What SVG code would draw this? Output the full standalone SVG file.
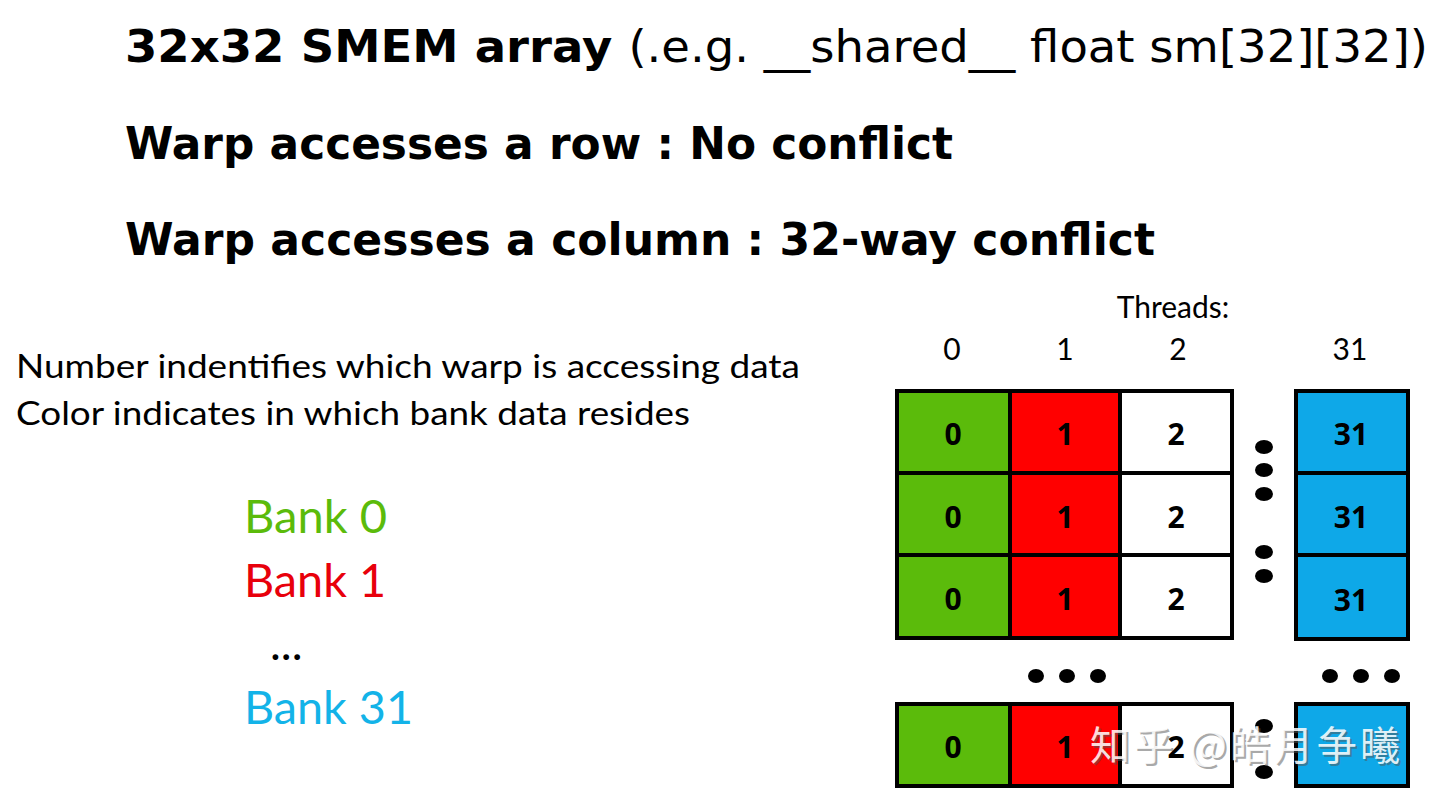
<svg xmlns="http://www.w3.org/2000/svg" width="1440" height="806" viewBox="0 0 1440 806">
<style>
.t{font-family:"DejaVu Sans",sans-serif;font-weight:bold;font-size:44px;fill:#000}
.tn{font-weight:normal}
.b{font-family:Lato,"Open Sans",sans-serif;font-size:33px;fill:#000}
.k{font-family:Lato,"Open Sans",sans-serif;font-size:46px}
.c{stroke:#000;stroke-width:4}
.n{font-family:"Open Sans",sans-serif;font-weight:bold;font-size:30px;text-anchor:middle;fill:#000}
.h{font-family:Lato,"Open Sans",sans-serif;font-size:30px;text-anchor:middle;fill:#000}
</style>
<rect width="1440" height="806" fill="#fff"/>
<text class="t" x="125" y="62" textLength="1303" lengthAdjust="spacingAndGlyphs">32x32 SMEM array <tspan class="tn">(.e.g. __shared__ float sm[32][32])</tspan></text>
<text class="t" x="125" y="159" textLength="828" lengthAdjust="spacingAndGlyphs">Warp accesses a row : No conflict</text>
<text class="t" x="125" y="255" textLength="1030" lengthAdjust="spacingAndGlyphs">Warp accesses a column : 32-way conflict</text>
<text class="b" x="16" y="378" textLength="784" lengthAdjust="spacingAndGlyphs">Number indentifies which warp is accessing data</text>
<text class="b" x="16" y="425" textLength="674" lengthAdjust="spacingAndGlyphs">Color indicates in which bank data resides</text>
<text class="k" x="244" y="533" fill="#5bbb0b" textLength="143" lengthAdjust="spacingAndGlyphs">Bank 0</text>
<text class="k" x="244" y="597" fill="#e8000b" textLength="142" lengthAdjust="spacingAndGlyphs">Bank 1</text>
<text class="k" x="270" y="660" fill="#000">...</text>
<text class="k" x="244" y="724" fill="#13b3e8" textLength="169" lengthAdjust="spacingAndGlyphs">Bank 31</text>
<text class="h" x="1173" y="318">Threads:</text>
<text class="h" x="952" y="360">0</text>
<text class="h" x="1065" y="360">1</text>
<text class="h" x="1178" y="360">2</text>
<text class="h" x="1350" y="360">31</text>
<g id="grid">
<g fill="#5bbb0b" class="c"><rect x="897" y="391" width="113" height="82"/><rect x="897" y="473" width="113" height="82"/><rect x="897" y="555" width="113" height="83"/><rect x="897" y="704" width="113" height="82"/></g>
<g fill="#ff0000" class="c"><rect x="1010" y="391" width="110" height="82"/><rect x="1010" y="473" width="110" height="82"/><rect x="1010" y="555" width="110" height="83"/><rect x="1010" y="704" width="110" height="82"/></g>
<g fill="#fff" class="c"><rect x="1120" y="391" width="112" height="82"/><rect x="1120" y="473" width="112" height="82"/><rect x="1120" y="555" width="112" height="83"/><rect x="1120" y="704" width="112" height="82"/></g>
<g fill="#0ea8e8" class="c"><rect x="1296" y="391" width="112" height="82"/><rect x="1296" y="473" width="112" height="82"/><rect x="1296" y="555" width="112" height="84"/><rect x="1296" y="704" width="112" height="82"/></g>
</g>
<g id="labels">
<text class="n" x="953" y="445">0</text><text class="n" x="1065" y="445">1</text><text class="n" x="1176" y="445">2</text><text class="n" x="1351" y="445">31</text>
<text class="n" x="953" y="528">0</text><text class="n" x="1065" y="528">1</text><text class="n" x="1176" y="528">2</text><text class="n" x="1351" y="528">31</text>
<text class="n" x="953" y="610">0</text><text class="n" x="1065" y="610">1</text><text class="n" x="1176" y="610">2</text><text class="n" x="1351" y="611">31</text>
<text class="n" x="953" y="758">0</text><text class="n" x="1065" y="758">1</text><text class="n" x="1176" y="758">2</text>
</g>
<g id="dots" fill="#000">
<ellipse cx="1264" cy="447" rx="9" ry="7"/><ellipse cx="1264" cy="470" rx="9" ry="7"/><ellipse cx="1264" cy="494" rx="9" ry="7"/>
<ellipse cx="1264" cy="552" rx="9" ry="7"/><ellipse cx="1264" cy="576" rx="9" ry="7"/>
<ellipse cx="1036" cy="676" rx="8" ry="7"/><ellipse cx="1067" cy="676" rx="8" ry="7"/><ellipse cx="1098" cy="676" rx="8" ry="7"/>
<ellipse cx="1330" cy="676" rx="8" ry="7"/><ellipse cx="1361" cy="676" rx="8" ry="7"/><ellipse cx="1392" cy="676" rx="8" ry="7"/>
<ellipse cx="1264" cy="726" rx="9" ry="7"/><ellipse cx="1264" cy="772" rx="9" ry="7"/>
</g>
<g id="watermark" font-family="'Noto Sans CJK SC',sans-serif" font-size="40">
<text x="1092" y="762" fill="#555" opacity="0.5" textLength="310">知乎 @皓月争曦</text>
<text x="1090" y="760" fill="#fff" opacity="0.85" textLength="310">知乎 @皓月争曦</text>
</g>
</svg>
